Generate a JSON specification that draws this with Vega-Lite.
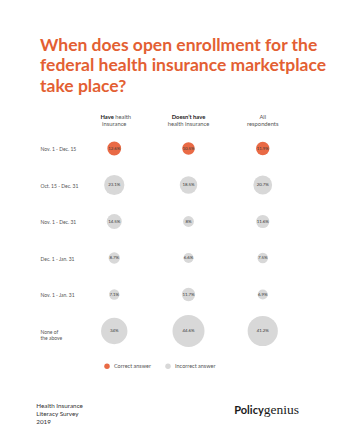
{
  "$schema": "https://vega.github.io/schema/vega-lite/v6.json",
  "width": 297,
  "height": 292,
  "autosize": {"type": "none"},
  "padding": {"left": 40, "top": 112, "right": 13, "bottom": 42},
  "background": "#ffffff",
  "config": {"view": {"stroke": null}, "font": "Lato"},
  "title": {
    "text": ["When does open enrollment for the", "federal health insurance marketplace", "take place?"],
    "anchor": "start",
    "frame": "group",
    "font": "Lato",
    "fontSize": 17.5,
    "fontWeight": "bold",
    "color": "#E35F33",
    "lineHeight": 20.5,
    "offset": 15
  },
  "datasets": {
    "answers": [
      {"row": "Nov. 1 - Dec. 15", "col": "have", "v": 0.126, "answer": "Correct answer"},
      {"row": "Nov. 1 - Dec. 15", "col": "nothave", "v": 0.105, "answer": "Correct answer"},
      {"row": "Nov. 1 - Dec. 15", "col": "all", "v": 0.119, "answer": "Correct answer"},
      {"row": "Oct. 15 - Dec. 31", "col": "have", "v": 0.231, "answer": "Incorrect answer"},
      {"row": "Oct. 15 - Dec. 31", "col": "nothave", "v": 0.185, "answer": "Incorrect answer"},
      {"row": "Oct. 15 - Dec. 31", "col": "all", "v": 0.207, "answer": "Incorrect answer"},
      {"row": "Nov. 1 - Dec. 31", "col": "have", "v": 0.145, "answer": "Incorrect answer"},
      {"row": "Nov. 1 - Dec. 31", "col": "nothave", "v": 0.08, "answer": "Incorrect answer"},
      {"row": "Nov. 1 - Dec. 31", "col": "all", "v": 0.116, "answer": "Incorrect answer"},
      {"row": "Dec. 1 - Jan. 31", "col": "have", "v": 0.087, "answer": "Incorrect answer"},
      {"row": "Dec. 1 - Jan. 31", "col": "nothave", "v": 0.066, "answer": "Incorrect answer"},
      {"row": "Dec. 1 - Jan. 31", "col": "all", "v": 0.075, "answer": "Incorrect answer"},
      {"row": "Nov. 1 - Jan. 31", "col": "have", "v": 0.071, "answer": "Incorrect answer"},
      {"row": "Nov. 1 - Jan. 31", "col": "nothave", "v": 0.117, "answer": "Incorrect answer"},
      {"row": "Nov. 1 - Jan. 31", "col": "all", "v": 0.069, "answer": "Incorrect answer"},
      {"row": "None of|the above", "col": "have", "v": 0.34, "answer": "Incorrect answer"},
      {"row": "None of|the above", "col": "nothave", "v": 0.446, "answer": "Incorrect answer"},
      {"row": "None of|the above", "col": "all", "v": 0.412, "answer": "Incorrect answer"}
    ],
    "headers": [
      {"row": "hdr", "col": "have", "part": "b1", "t": "Have"},
      {"row": "hdr", "col": "have", "part": "n1", "t": "health"},
      {"row": "hdr", "col": "have", "part": "l2", "t": "insurance"},
      {"row": "hdr", "col": "nothave", "part": "c1b", "t": "Doesn’t have"},
      {"row": "hdr", "col": "nothave", "part": "l2", "t": "health insurance"},
      {"row": "hdr", "col": "all", "part": "c1", "t": "All"},
      {"row": "hdr", "col": "all", "part": "l2", "t": "respondents"}
    ],
    "footer": [
      {"row": "foot", "col": "have", "part": "survey", "t": "Health Insurance\nLiteracy Survey\n2019"},
      {"row": "foot", "col": "all", "part": "logo1", "t": "Policy"},
      {"row": "foot", "col": "all", "part": "logo2", "t": "genius"}
    ]
  },
  "encoding": {
    "x": {
      "field": "col", "type": "nominal",
      "scale": {"type": "point", "domain": ["have", "nothave", "all"], "padding": 1.106},
      "axis": null
    },
    "y": {
      "field": "row", "type": "nominal",
      "scale": {"type": "point", "padding": 0, "domain": ["hdr", "Nov. 1 - Dec. 15", "Oct. 15 - Dec. 31", "Nov. 1 - Dec. 31", "Dec. 1 - Jan. 31", "Nov. 1 - Jan. 31", "None of|the above", "leg", "foot"]},
      "axis": {
        "title": null, "domain": false, "ticks": false, "tickSize": 0, "grid": false,
        "labelAlign": "left", "labelPadding": 0, "labelBaseline": "middle",
        "labelFontSize": 5, "labelColor": "#555555", "labelFont": "Lato", "labelLineHeight": 6.5,
        "labelExpr": "datum.value == 'hdr' || datum.value == 'leg' || datum.value == 'foot' ? '' : split(datum.value, '|')"
      }
    }
  },
  "layer": [
    {
      "data": {"name": "answers"},
      "mark": {"type": "point", "filled": true, "opacity": 1, "shape": "circle"},
      "encoding": {
        "size": {"field": "v", "type": "quantitative", "scale": {"type": "pow", "exponent": 1.5, "domain": [0, 0.446], "range": [44, 1024]}, "legend": null},
        "color": {
          "field": "answer", "type": "nominal",
          "scale": {"domain": ["Correct answer", "Incorrect answer"], "range": ["#E96A45", "#D8D8D8"]},
          "legend": {
            "orient": "none", "direction": "horizontal", "legendX": 64, "legendY": 251,
            "title": null, "symbolType": "circle", "symbolSize": 30, "symbolStrokeWidth": 0,
            "labelFontSize": 5.5, "labelColor": "#555555", "labelFont": "Lato", "labelOffset": 4, "columnPadding": 14
          }
        }
      }
    },
    {
      "data": {"name": "answers"},
      "mark": {"type": "text", "fontSize": 4.4, "color": "#3a3a3a", "baseline": "middle", "align": "center"},
      "encoding": {"text": {"field": "v", "type": "quantitative", "format": ".3~%"}}
    },
    {
      "data": {"name": "headers"},
      "transform": [{"filter": "datum.part == 'b1'"}],
      "mark": {"type": "text", "fontSize": 5.8, "fontWeight": "bold", "color": "#222222", "align": "right", "dx": -0.5, "dy": 5.3, "baseline": "middle"},
      "encoding": {"text": {"field": "t"}}
    },
    {
      "data": {"name": "headers"},
      "transform": [{"filter": "datum.part == 'n1'"}],
      "mark": {"type": "text", "fontSize": 5.8, "color": "#555555", "align": "left", "dx": 1, "dy": 5.3, "baseline": "middle"},
      "encoding": {"text": {"field": "t"}}
    },
    {
      "data": {"name": "headers"},
      "transform": [{"filter": "datum.part == 'c1b'"}],
      "mark": {"type": "text", "fontSize": 5.8, "fontWeight": "bold", "color": "#222222", "align": "center", "dy": 5.3, "baseline": "middle"},
      "encoding": {"text": {"field": "t"}}
    },
    {
      "data": {"name": "headers"},
      "transform": [{"filter": "datum.part == 'c1'"}],
      "mark": {"type": "text", "fontSize": 5.8, "color": "#555555", "align": "center", "dy": 5.3, "baseline": "middle"},
      "encoding": {"text": {"field": "t"}}
    },
    {
      "data": {"name": "headers"},
      "transform": [{"filter": "datum.part == 'l2'"}],
      "mark": {"type": "text", "fontSize": 5.8, "color": "#555555", "align": "center", "dy": 12, "baseline": "middle"},
      "encoding": {"text": {"field": "t"}}
    },
    {
      "data": {"name": "footer"},
      "transform": [{"filter": "datum.part == 'survey'"}],
      "mark": {"type": "text", "fontSize": 6.3, "color": "#333333", "align": "left", "dx": -78, "dy": 2, "baseline": "middle", "lineBreak": "\n", "lineHeight": 8},
      "encoding": {"text": {"field": "t"}}
    },
    {
      "data": {"name": "footer"},
      "transform": [{"filter": "datum.part == 'logo1'"}],
      "mark": {"type": "text", "font": "Lato", "fontSize": 11, "fontWeight": "bold", "color": "#1a1a1a", "align": "right", "dx": 1, "dy": 10, "baseline": "alphabetic"},
      "encoding": {"text": {"field": "t"}}
    },
    {
      "data": {"name": "footer"},
      "transform": [{"filter": "datum.part == 'logo2'"}],
      "mark": {"type": "text", "font": "Liberation Serif", "fontSize": 13.5, "color": "#1a1a1a", "align": "left", "dx": 1, "dy": 10, "baseline": "alphabetic"},
      "encoding": {"text": {"field": "t"}}
    }
  ]
}
